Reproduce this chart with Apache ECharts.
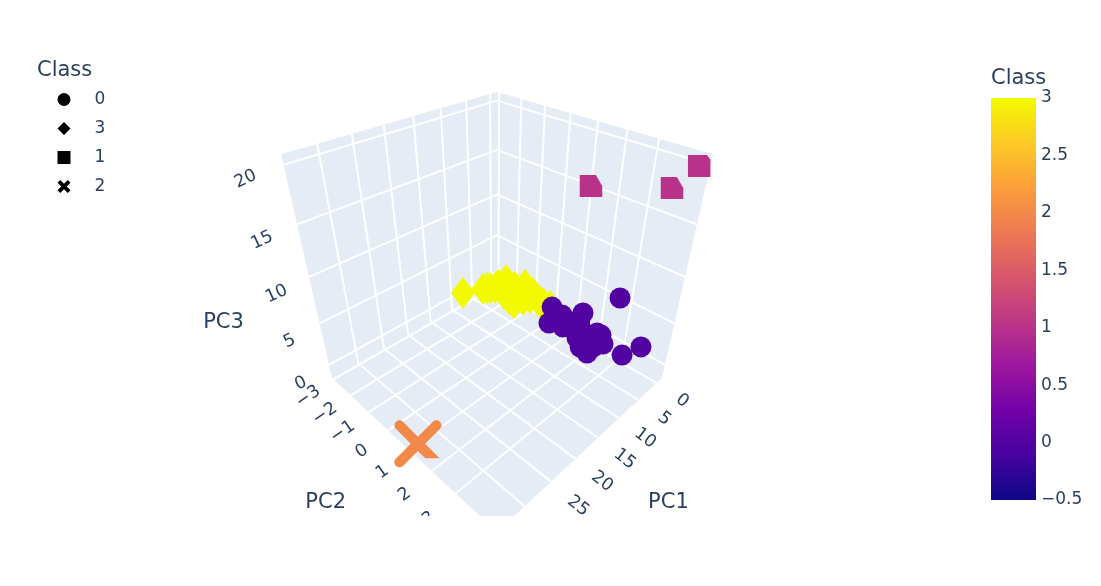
<!DOCTYPE html>
<html lang="en">
<head>
    <meta charset="utf-8"/>
    <title>PCA clusters</title>
    <style>
        html, body { margin: 0; padding: 0; background: #fff; }
        #chart { width: 1101px; height: 586px; }
    </style>
    <script src="https://cdn.jsdelivr.net/npm/echarts@6/dist/echarts.min.js"></script>
</head>
<body>
<div id="chart"></div>
<script>
    // values
    var class0Pc1 = [0.42, 4.12, 0.93, 3.29, -0.01, 3.86, 0.91, 5.59, 0.55, 2.12, 2.78, 2.16, -1.52, 1.22, 2.45, 2.42, 1.22, 5.25, 3.81, 0.59];
    var class0Pc2 = [0.13, 0.65, 0.68, 1.14, 1.42, 1.84, 1.48, 2.54, 2.32, 2.64, 2.21, 3.40, 3.61, 2.90, 1.39, 0.62, 1.18, 2.20, 2.50, 2.16];
    var class0Pc3 = [0.56, 0.56, 0.56, 0.56, 1.69, 0.56, 0.56, 0.56, 0.56, 0.56, 0.56, 0.56, 0.56, 6.19, 0.56, 0.56, 0.56, 0.56, 0.56, 0.56];

    var class3Pc1 = [8.46, 0.11, 3.98, 3.34, -0.27, 4.20, 4.06, 0.50, 0.44, 1.15, 2.45, 4.37, 0.79, 0.57, 1.88, 2.17, 2.29, -0.35, 0.64, 3.61, -1.17, 5.09];
    var class3Pc2 = [-2.79, -2.25, -2.30, -2.17, -1.23, -1.01, -1.24, -0.58, 0.04, -0.80, -0.90, -2.39, -0.38, -1.68, -1.68, -1.11, -2.23, -0.94, -0.26, -1.59, -1.50, -2.45];
    var class3Pc3 = [0.56, 0.56, 0.56, 0.56, 0.56, 0.56, 0.56, 0.56, 0.56, 0.56, 0.56, 0.56, 0.56, 0.56, 0.56, 0.56, 0.56, 0.56, 0.56, 0.56, 0.56, 0.56];

    var class1Pc1 = [2.66, 2.82, 0.35];
    var class1Pc2 = [1.60, 4.08, 4.43];
    var class1Pc3 = [16.33, 18.58, 20.15];

    var class2Pc1 = [34.15];
    var class2Pc2 = [1.28];
    var class2Pc3 = [-0.56];

    var pc1Ticks = [0, 5, 10, 15, 20, 25, 30];
    var pc2Ticks = [-3, -2, -1, 0, 1, 2, 3];
    var pc3Ticks = [0, 5, 10, 15, 20];
    var legendOrder = ['0', '3', '1', '2'];
    var plasma = ['#0d0887', '#46039f', '#7201a8', '#9c179e', '#bd3786', '#d8576b', '#ed7953', '#fb9f3a', '#fdca26', '#f3fa00'];

    var textColor = '#2a3f5f';
    var fontName = '"DejaVu Sans"';

    // axis ranges of the 3d box
    var pc1Range = [-1.54, 34.8];
    var pc2Range = [-3.09, 4.54];
    var pc3Range = [-1.69, 20.83];

    // perspective view of the unit box, fitted on its corners
    function project(u, v, w) {
        var d = 1 - 0.195 * (u + v) - 0.19 * w;
        return [
            (497 - 229.7 * u + 35.9 * v - 94.4 * w) / d,
            (284 + 20.3 * (u + v) - 209.5 * w) / d
        ];
    }
    function norm(val, range) {
        return (val - range[0]) / (range[1] - range[0]);
    }
    function toPoints(pc1, pc2, pc3, cls) {
        return pc1.map(function (val, i) {
            var p = project(norm(val, pc1Range), norm(pc2[i], pc2Range), norm(pc3[i], pc3Range));
            return [p[0], p[1], cls];
        });
    }

    // walls and floor
    var planes = [
        [[0, 0, 0], [1, 0, 0], [1, 0, 1], [0, 0, 1]],
        [[0, 0, 0], [0, 1, 0], [0, 1, 1], [0, 0, 1]],
        [[0, 0, 0], [1, 0, 0], [1, 1, 0], [0, 1, 0]]
    ].map(function (corners) {
        return corners.reduce(function (row, c) {
            return row.concat(project(c[0], c[1], c[2]));
        }, []);
    });

    // grid lines
    var gridLines = [];
    function addLine(a, b) {
        gridLines.push(project(a[0], a[1], a[2]).concat(project(b[0], b[1], b[2])));
    }
    pc1Ticks.forEach(function (t) {
        var u = norm(t, pc1Range);
        addLine([u, 0, 0], [u, 1, 0]);
        addLine([u, 0, 0], [u, 0, 1]);
    });
    pc2Ticks.forEach(function (t) {
        var v = norm(t, pc2Range);
        addLine([0, v, 0], [1, v, 0]);
        addLine([0, v, 0], [0, v, 1]);
    });
    pc3Ticks.forEach(function (t) {
        var w = norm(t, pc3Range);
        addLine([0, 0, w], [1, 0, w]);
        addLine([0, 0, w], [0, 1, w]);
    });

    // tick labels and axis titles
    var labelTexts = [], labelRot = [], labelSize = [], labelPos = [];
    function addLabel(text, pos, rot, size) {
        labelTexts.push(text);
        labelPos.push(pos);
        labelRot.push(rot);
        labelSize.push(size);
    }
    pc1Ticks.forEach(function (t) {
        addLabel(String(t), project(norm(t, pc1Range), 1.12, 0), -38, 17.5);
    });
    pc2Ticks.forEach(function (t) {
        addLabel(String(t).replace('-', '\u2212'), project(1.12, norm(t, pc2Range), 0), 35, 17.5);
    });
    pc3Ticks.forEach(function (t) {
        addLabel(String(t), project(1.13, 0, norm(t, pc3Range)), 25, 17.5);
    });
    addLabel('PC1', project(0.5, 1.33, 0), 0, 21);
    addLabel('PC2', project(1.33, 0.5, 0), 0, 21);
    addLabel('PC3', project(1.33, 0, 0.5), 0, 21);

    // glitched sprites, the plot cuts a corner off these markers
    var crossPath = 'path://M4.4 25.6A15 15 0 0 1 25.6 4.4L70 48.8L114.4 4.4A15 15 0 0 1 135.6 25.6L91.2 70L134.2 113L91.8 113L70 91.2L25.6 135.6A15 15 0 0 1 4.4 114.4L48.8 70Z';
    var squarePath = 'path://M0 0L48 0L67 33L67 65L0 65Z';
    var squareSmallCut = 'path://M0 0L57 0L67 14L67 65L0 65Z';

    var chart = echarts.init(document.getElementById('chart'));
    var option = {
        animation: false,
        title: [
            {text: 'Class', left: 37, top: 60, padding: 0, textStyle: {fontFamily: fontName, fontSize: 21, fontWeight: 'normal', color: textColor}},
            {text: 'Class', left: 991, top: 68, padding: 0, textStyle: {fontFamily: fontName, fontSize: 21, fontWeight: 'normal', color: textColor}}
        ],
        legend: {
            orient: 'vertical',
            left: 57.5,
            top: 91,
            padding: 0,
            itemWidth: 13,
            itemHeight: 13,
            itemGap: 12,
            selectedMode: false,
            textStyle: {fontFamily: fontName, fontSize: 17, color: textColor, padding: [0, 0, 0, 19]},
            data: [
                {name: legendOrder[0], icon: 'circle', itemStyle: {color: '#000'}},
                {name: legendOrder[1], icon: 'diamond', itemStyle: {color: '#000'}},
                {name: legendOrder[2], icon: 'rect', itemStyle: {color: '#000'}},
                {name: legendOrder[3], icon: 'path://M6 0L14 8L22 0L28 6L20 14L28 22L22 28L14 20L6 28L0 22L8 14L0 6Z', itemStyle: {color: '#000'}}
            ]
        },
        visualMap: {
            type: 'continuous',
            show: false,
            min: -0.5,
            max: 3,
            dimension: 2,
            seriesIndex: [3, 4, 5, 6],
            inRange: {color: plasma}
        },
        grid: [
            {left: 0, top: 0, width: 1101, height: 516},
            {left: 991, top: 98, width: 45, height: 402}
        ],
        xAxis: [
            {type: 'value', gridIndex: 0, min: 0, max: 1101, show: false},
            {type: 'value', gridIndex: 1, min: 0, max: 1, show: false}
        ],
        yAxis: [
            {type: 'value', gridIndex: 0, min: 0, max: 516, inverse: true, show: false},
            {
                type: 'value',
                gridIndex: 1,
                position: 'right',
                min: -0.5,
                max: 3,
                interval: 0.5,
                axisLine: {show: false},
                axisTick: {show: false},
                splitLine: {show: false},
                axisLabel: {
                    margin: 5,
                    padding: [2, 0, 0, 0],
                    fontFamily: fontName,
                    fontSize: 17,
                    color: textColor,
                    formatter: function (val) {
                        return String(val).replace('-', '\u2212');
                    }
                }
            }
        ],
        series: [
            {
                type: 'custom',
                silent: true,
                clip: true,
                data: planes,
                renderItem: function (params, api) {
                    var pts = [];
                    for (var i = 0; i < 4; i++) {
                        pts.push(api.coord([api.value(i * 2), api.value(i * 2 + 1)]));
                    }
                    return {type: 'polygon', shape: {points: pts}, style: {fill: '#e5ecf6'}};
                }
            },
            {
                type: 'custom',
                silent: true,
                clip: true,
                data: gridLines,
                renderItem: function (params, api) {
                    var a = api.coord([api.value(0), api.value(1)]);
                    var b = api.coord([api.value(2), api.value(3)]);
                    return {
                        type: 'line',
                        shape: {x1: a[0], y1: a[1], x2: b[0], y2: b[1]},
                        style: {stroke: '#fff', lineWidth: 2}
                    };
                }
            },
            {
                type: 'custom',
                silent: true,
                clip: true,
                data: labelPos,
                renderItem: function (params, api) {
                    var p = api.coord([api.value(0), api.value(1)]);
                    var i = params.dataIndex;
                    return {
                        type: 'text',
                        x: p[0],
                        y: p[1] + 3,
                        rotation: labelRot[i] * Math.PI / 180,
                        style: {
                            text: labelTexts[i],
                            fontFamily: fontName,
                            fontSize: labelSize[i],
                            fill: textColor,
                            align: 'center',
                            verticalAlign: 'middle'
                        }
                    };
                }
            },
            {
                name: '3',
                type: 'scatter',
                silent: true,
                symbol: 'diamond',
                symbolSize: [24, 32],
                itemStyle: {opacity: 1},
                data: toPoints(class3Pc1, class3Pc2, class3Pc3, 3)
            },
            {
                name: '0',
                type: 'scatter',
                silent: true,
                symbol: 'circle',
                symbolSize: 21,
                itemStyle: {opacity: 1},
                data: toPoints(class0Pc1, class0Pc2, class0Pc3, 0)
            },
            {
                name: '1',
                type: 'scatter',
                silent: true,
                symbol: function (val, params) {
                    return params.dataIndex === 2 ? squareSmallCut : squarePath;
                },
                symbolSize: [22.5, 22],
                itemStyle: {opacity: 1},
                data: toPoints(class1Pc1, class1Pc2, class1Pc3, 1)
            },
            {
                name: '2',
                type: 'scatter',
                silent: true,
                symbol: crossPath,
                symbolSize: 47,
                itemStyle: {opacity: 1},
                data: toPoints(class2Pc1, class2Pc2, class2Pc3, 2)
            },
            {
                // colour bar
                type: 'custom',
                silent: true,
                xAxisIndex: 1,
                yAxisIndex: 1,
                data: [[0, -0.5, 1, 3]],
                renderItem: function (params, api) {
                    var a = api.coord([api.value(0), api.value(3)]);
                    var b = api.coord([api.value(2), api.value(1)]);
                    var stops = plasma.map(function (c, i) {
                        return {offset: i / (plasma.length - 1), color: c};
                    });
                    return {
                        type: 'rect',
                        shape: {x: a[0], y: a[1], width: b[0] - a[0], height: b[1] - a[1]},
                        style: {fill: new echarts.graphic.LinearGradient(0, 1, 0, 0, stops)}
                    };
                }
            }
        ]
    };
    chart.setOption(option);
</script>
</body>
</html>
